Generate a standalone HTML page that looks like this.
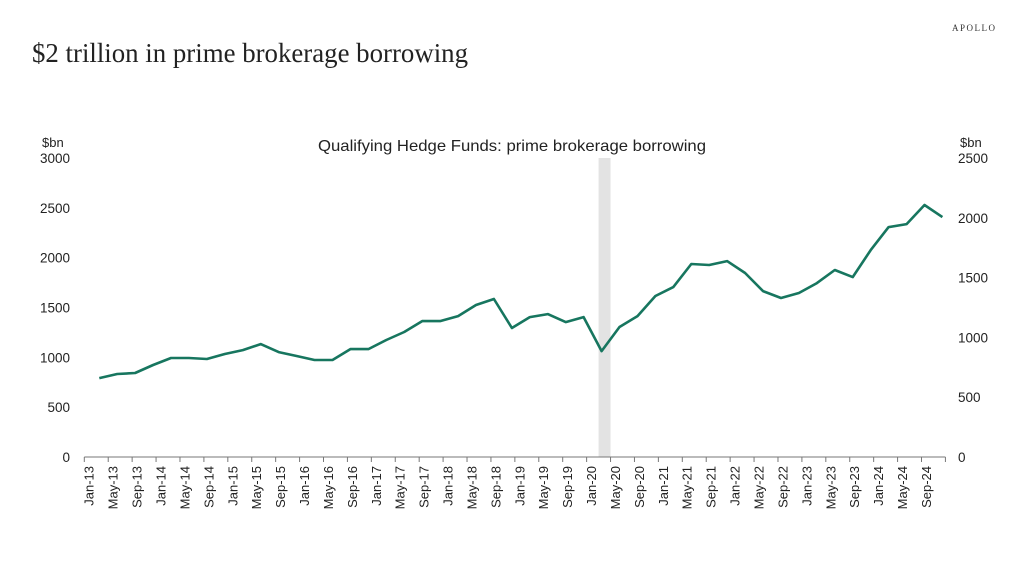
<!DOCTYPE html>
<html><head><meta charset="utf-8"><style>
html,body{margin:0;padding:0;background:#fff;}
svg{display:block;}
</style></head><body>
<svg id="chart" width="1024" height="576" viewBox="0 0 1024 576" xmlns="http://www.w3.org/2000/svg">
<text x="952" y="31" font-family="Liberation Serif, serif" font-size="9" letter-spacing="1.5" fill="#333">APOLLO</text>
<text x="32" y="62" font-family="Liberation Serif, serif" font-size="27" fill="#222" textLength="436" lengthAdjust="spacingAndGlyphs">$2 trillion in prime brokerage borrowing</text>
<text x="512" y="151" text-anchor="middle" font-family="Liberation Sans, sans-serif" font-size="16" fill="#222" textLength="388" lengthAdjust="spacingAndGlyphs">Qualifying Hedge Funds: prime brokerage borrowing</text>
<text x="42" y="147" font-family="Liberation Sans, sans-serif" font-size="13" fill="#222">$bn</text>
<text x="960" y="147" font-family="Liberation Sans, sans-serif" font-size="13" fill="#222">$bn</text>
<g id="g-recession"></g>
<g id="g-axes"></g>
<g id="g-line"></g>
</svg>
<script>
const values = [792,833,843,923,993,993,983,1033,1073,1133,1053,1013,973,973,1083,1083,1174,1254,1364,1364,1414,1525,1585,1294,1404,1434,1354,1404,1063,1304,1414,1615,1705,1936,1926,1966,1846,1665,1595,1645,1745,1876,1805,2076,2307,2337,2528,2407];
const leftTicks = [0,500,1000,1500,2000,2500,3000];
const rightTicks = [0,500,1000,1500,2000,2500];
const xLabels = ["Jan-13","May-13","Sep-13","Jan-14","May-14","Sep-14","Jan-15","May-15","Sep-15","Jan-16","May-16","Sep-16","Jan-17","May-17","Sep-17","Jan-18","May-18","Sep-18","Jan-19","May-19","Sep-19","Jan-20","May-20","Sep-20","Jan-21","May-21","Sep-21","Jan-22","May-22","Sep-22","Jan-23","May-23","Sep-23","Jan-24","May-24","Sep-24"];
const recession = [86, 88]; // months since Jan-13

const NS = "http://www.w3.org/2000/svg";
const x0 = 84.3, mw = 5.98, yb = 457, yt = 158;
const xM = m => x0 + m * mw;
const yL = v => yb - (v / 3000) * (yb - yt);
const yR = v => yb - (v / 2500) * (yb - yt);
function mk(tag, attrs, parent){const e=document.createElementNS(NS,tag);for(const k in attrs)e.setAttribute(k,attrs[k]);parent.appendChild(e);return e;}

const gr = document.getElementById('g-recession');
const rb = mk('rect',{x:xM(recession[0]),y:yt,width:xM(recession[1])-xM(recession[0]),height:yb-yt,fill:'#e3e3e3'},gr);



const ga = document.getElementById('g-axes');
const axisEnd = xM(xLabels.length * 4);
const al = mk('line',{x1:x0,y1:yb,x2:axisEnd,y2:yb,stroke:'#777','stroke-width':1},ga);


for (let i = 0; i <= xLabels.length; i++) {
  const x = xM(i*4);
  const t = mk('line',{x1:x,y1:yb,x2:x,y2:yb+5,stroke:'#777','stroke-width':1},ga);
  
  
  if (i < xLabels.length) {
    const lx = x + 6, ly = yb + 9;
    const tx = mk('text',{x:lx,y:ly,transform:`rotate(-90 ${lx} ${ly})`,'text-anchor':'end','dominant-baseline':'middle','font-family':'Liberation Sans, sans-serif','font-size':13,fill:'#222'},ga);
    tx.textContent = xLabels[i];
    
    
  }
}
leftTicks.forEach(v => {
  const t = mk('text',{x:70,y:yL(v)+5,'text-anchor':'end','font-family':'Liberation Sans, sans-serif','font-size':13.5,fill:'#222'},ga);
  t.textContent = v;
  
  
});
rightTicks.forEach(v => {
  const t = mk('text',{x:958,y:yR(v)+5,'font-family':'Liberation Sans, sans-serif','font-size':13.5,fill:'#222'},ga);
  t.textContent = v;
  
  
});

const gl = document.getElementById('g-line');
const pts = values.map((v,i) => `${xM(2.5+3*i).toFixed(1)},${yL(v).toFixed(1)}`).join(' ');
const pl = mk('polyline',{points:pts,fill:'none',stroke:'#17765f','stroke-width':2.6,'stroke-linejoin':'round'},gl);


</script>
</body></html>
